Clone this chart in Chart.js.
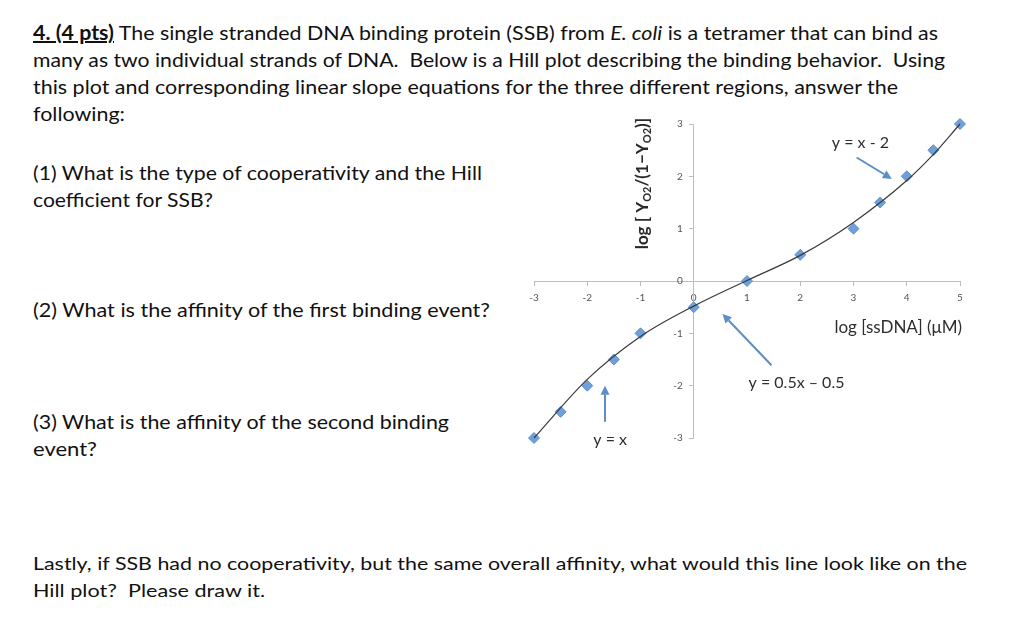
<!DOCTYPE html>
<html>
<head>
<meta charset="utf-8">
<script src="https://cdn.jsdelivr.net/npm/chart.js@4.4.1/dist/chart.umd.min.js"></script>
<style>
  html, body { margin:0; padding:0; background:#fff; }
  body { width:1024px; height:631px; position:relative; overflow:hidden; font-family: Lato, "Open Sans", sans-serif; color:#111; }
  .ln { position:absolute; left:33px; white-space:pre; font-size:20px; line-height:20px; transform-origin:0 0; }
  .sm { font-size:18px; line-height:18px; }
  #wrap { position:absolute; left:0; top:0; width:1024px; height:631px; }
</style>
</head>
<body>
<div class="ln" data-b="40" data-w="905"><b><u>4. (4 pts)</u></b> The single stranded DNA binding protein (SSB) from <i>E. coli</i> is a tetramer that can bind as</div>
<div class="ln" data-b="67" data-w="912">many as two individual strands of DNA.  Below is a Hill plot describing the binding behavior.  Using</div>
<div class="ln" data-b="94" data-w="865">this plot and corresponding linear slope equations for the three different regions, answer the</div>
<div class="ln" data-b="121" data-w="92">following:</div>
<div class="ln" data-b="180" data-w="449">(1) What is the type of cooperativity and the Hill</div>
<div class="ln" data-b="207" data-w="180">coefficient for SSB?</div>
<div class="ln" data-b="317" data-w="457">(2) What is the affinity of the first binding event?</div>
<div class="ln" data-b="429" data-w="416">(3) What is the affinity of the second binding</div>
<div class="ln" data-b="456" data-w="64">event?</div>
<div class="ln sm" data-b="570" data-w="934">Lastly, if SSB had no cooperativity, but the same overall affinity, what would this line look like on the</div>
<div class="ln sm" data-b="597" data-w="232">Hill plot?  Please draw it.</div>

<div id="wrap"><canvas id="c" width="1024" height="631"></canvas></div>

<script>
// ---- data ----
const xTicks = [-3, -2, -1, 0, 1, 2, 3, 4, 5];
const yTicks = [-3, -2, -1, 0, 1, 2, 3];
const logSsDNA  = [-3, -2.5, -2, -1.5, -1, 0, 1, 2, 3, 3.5, 4, 4.5, 5];
const logYRatio = [-3, -2.5, -2, -1.5, -1, -0.5, 0, 0.5, 1, 1.5, 2, 2.5, 3];
const trendX = [-3, -2, -1, 0, 1, 2, 3, 4, 4.5, 5];
const trendY = [-3, -1.88, -1.06, -0.48, 0.01, 0.49, 1.12, 1.92, 2.42, 3];
const xTitle = "log [ssDNA] (\u03BCM)";
const equations = ["y = x - 2", "y = 0.5x \u2013 0.5", "y = x"];

// ---- text lines fitting ----
document.querySelectorAll('.ln').forEach(el => {
  const fs = parseFloat(getComputedStyle(el).fontSize);
  const base = +el.dataset.b;
  el.style.top = (base - 0.887 * fs) + 'px';
  const w = el.getBoundingClientRect().width;
  el.style.transform = 'scaleX(' + (+el.dataset.w / w) + ')';
});

// ---- annotation plugin ----
const annotPlugin = {
  id: 'annot',
  afterDraw(chart) {
    const { ctx, scales: { x, y } } = chart;
    ctx.save();
    // y tick labels, placed left of the crossing axis
    const axisX = x.getPixelForValue(0);
    ctx.font = '10px Lato, sans-serif';
    ctx.fillStyle = '#555';
    ctx.textAlign = 'right'; ctx.textBaseline = 'middle';
    y.ticks.forEach(t => {
      ctx.fillText(String(t.value), axisX - 11, y.getPixelForValue(t.value));
    });
    // arrows (data units)
    const arrows = [
      [[3.06, 2.36], [3.72, 1.95]],
      [[1.46, -1.61], [0.54, -0.63]],
      [[-1.667, -2.69], [-1.667, -2.0]]
    ];
    ctx.strokeStyle = '#5b8dc6';
    ctx.fillStyle = '#5b8dc6';
    ctx.lineWidth = 2;
    arrows.forEach(([a, b]) => {
      const x1 = x.getPixelForValue(a[0]), y1 = y.getPixelForValue(a[1]);
      const x2 = x.getPixelForValue(b[0]), y2 = y.getPixelForValue(b[1]);
      const ang = Math.atan2(y2 - y1, x2 - x1);
      const hl = 9, hw = 4.5;
      const bx = x2 - hl * Math.cos(ang), by = y2 - hl * Math.sin(ang);
      ctx.beginPath(); ctx.moveTo(x1, y1); ctx.lineTo(bx, by); ctx.stroke();
      ctx.beginPath();
      ctx.moveTo(x2, y2);
      ctx.lineTo(bx + hw * Math.sin(ang), by - hw * Math.cos(ang));
      ctx.lineTo(bx - hw * Math.sin(ang), by + hw * Math.cos(ang));
      ctx.closePath(); ctx.fill();
    });
    // equation labels
    const labelPos = [[3.13, 2.64], [1.93, -1.95], [-1.57, -3.04]];
    ctx.fillStyle = '#2e2e2e';
    ctx.font = '16px Lato, sans-serif';
    ctx.textAlign = 'center'; ctx.textBaseline = 'middle';
    equations.forEach((t, i) => {
      ctx.fillText(t, x.getPixelForValue(labelPos[i][0]), y.getPixelForValue(labelPos[i][1]));
    });
    // x-axis title
    ctx.font = '17px Lato, sans-serif';
    ctx.textAlign = 'right';
    ctx.fillText(xTitle, x.right + 2, y.getPixelForValue(-0.88));
    // y-axis title (rotated, with subscripts)
    const parts = [
      ['log [ Y', false], ['O2', true], ['/(1\u2212Y', false], ['O2', true], [')]', false]
    ];
    const big = 'bold 17px Lato, sans-serif', small = 'bold 11px Lato, sans-serif';
    let total = 0;
    parts.forEach(p => { ctx.font = p[1] ? small : big; total += ctx.measureText(p[0]).width; });
    ctx.translate(x.getPixelForValue(-0.98), y.getPixelForValue(1.86));
    ctx.rotate(-Math.PI / 2);
    ctx.textAlign = 'left'; ctx.textBaseline = 'alphabetic';
    ctx.fillStyle = '#2a2a2a';
    let cx = -total / 2;
    parts.forEach(p => {
      ctx.font = p[1] ? small : big;
      ctx.fillText(p[0], cx, p[1] ? 9 : 6);
      cx += ctx.measureText(p[0]).width;
    });
    ctx.restore();
  }
};

new Chart(document.getElementById('c'), {
  type: 'scatter',
  data: {
    datasets: [
      {
        type: 'line',
        data: trendX.map((v, i) => ({ x: v, y: trendY[i] })),
        borderColor: '#3a3a3a',
        borderWidth: 1.2,
        pointRadius: 0,
        fill: false,
        clip: false,
        cubicInterpolationMode: 'monotone',
        order: 0
      },
      {
        data: logSsDNA.map((v, i) => ({ x: v, y: logYRatio[i] })),
        pointStyle: 'rectRot',
        pointRadius: 5.5,
        backgroundColor: '#6fa0da',
        borderColor: '#5d8fcc',
        borderWidth: 1,
        clip: false,
        order: 1
      }
    ]
  },
  options: {
    responsive: false,
    animation: false,
    devicePixelRatio: 1,
    layout: { padding: { left: 534, right: 64, top: 124, bottom: 193 } },
    plugins: { legend: { display: false }, tooltip: { enabled: false } },
    scales: {
      x: {
        type: 'linear', min: -3, max: 5,
        position: { y: 0 },
        afterBuildTicks: s => { s.ticks = xTicks.map(v => ({ value: v })); },
        ticks: { font: { size: 10, family: 'Lato' }, color: '#555', padding: 7, maxRotation: 0 },
        grid: { drawOnChartArea: false, color: '#bdbdbd', tickLength: 4 },
        border: { color: '#bdbdbd', width: 1 }
      },
      y: {
        type: 'linear', min: -3, max: 3,
        position: { x: 0 },
        afterBuildTicks: s => { s.ticks = yTicks.map(v => ({ value: v })); },
        ticks: { font: { size: 10, family: 'Lato' }, color: 'rgba(0,0,0,0)' },
        grid: { drawOnChartArea: false, color: '#bdbdbd', tickLength: 4 },
        border: { color: '#bdbdbd', width: 1 }
      }
    }
  },
  plugins: [annotPlugin]
});
</script>
</body>
</html>
